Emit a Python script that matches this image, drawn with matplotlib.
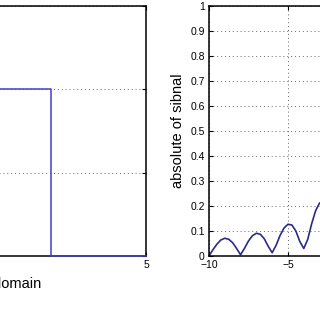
import numpy as np
from matplotlib import pyplot as plt

plt.rcParams.update({'font.family': ['Liberation Sans', 'DejaVu Sans'], 'font.size': 7.5})

# left plot: rectangular pulse in time
t = [-5, -2, -2, 2, 2, 5]
rect = [0, 0, 1, 1, 0, 0]

# right plot: magnitude of its spectrum
f = [-10, -9.75, -9.5, -9.25, -9, -8.75, -8.5, -8.25, -8,
     -7.75, -7.5, -7.25, -7, -6.75, -6.5, -6.25, -6,
     -5.75, -5.5, -5.25, -5, -4.75, -4.5, -4.25, -4,
     -3.75, -3.5, -3.25, -3, -2.75, -2.5]
mag = [0.0, 0.025, 0.047, 0.064, 0.071, 0.067, 0.053, 0.030, 0.005,
       0.031, 0.060, 0.081, 0.091, 0.087, 0.069, 0.039, 0.013,
       0.043, 0.082, 0.112, 0.127, 0.124, 0.100, 0.058, 0.030,
       0.066, 0.129, 0.181, 0.212, 0.214, 0.180]

fig = plt.figure(figsize=(3.2, 3.2), dpi=100)
ax1 = fig.add_axes([-0.531, 0.2, 0.9875, 0.78125])
ax2 = fig.add_axes([0.653, 0.2, 0.9875, 0.78125])

ax1.plot(t, rect, color='#4040c8', lw=1.1, zorder=5, clip_on=False)
ax1.set_xlim(-5, 5)
ax1.set_ylim(0, 1.5)
ax1.set_xticks([-5, 0, 5])
ax1.set_yticks([0, 0.5, 1, 1.5])
ax1.set_xlabel("time domain", fontsize=10.5)
ax1.xaxis.set_label_coords(0.54, -0.085)

ax2.plot(f, mag, color='#2a2a8a', lw=1.2)
ax2.set_xlim(-10, 10)
ax2.set_ylim(0, 1)
ax2.set_xticks([-10, -5, 0, 5, 10])
ax2.set_yticks(np.arange(0, 11) / 10)
ax2.set_yticklabels(['0', '0.1', '0.2', '0.3', '0.4', '0.5', '0.6', '0.7', '0.8', '0.9', '1'])
ax2.set_ylabel("absolute of sibnal", fontsize=10.5, labelpad=4)

for ax in (ax1, ax2):
    ax.grid(True, linestyle=(0, (1, 3)), color='#666666', lw=0.7)
    ax.tick_params(direction='in', length=3, width=0.8, top=True, right=True, pad=3)
    for s in ax.spines.values():
        s.set_linewidth(1.1)

plt.savefig("out.png", dpi=100)
